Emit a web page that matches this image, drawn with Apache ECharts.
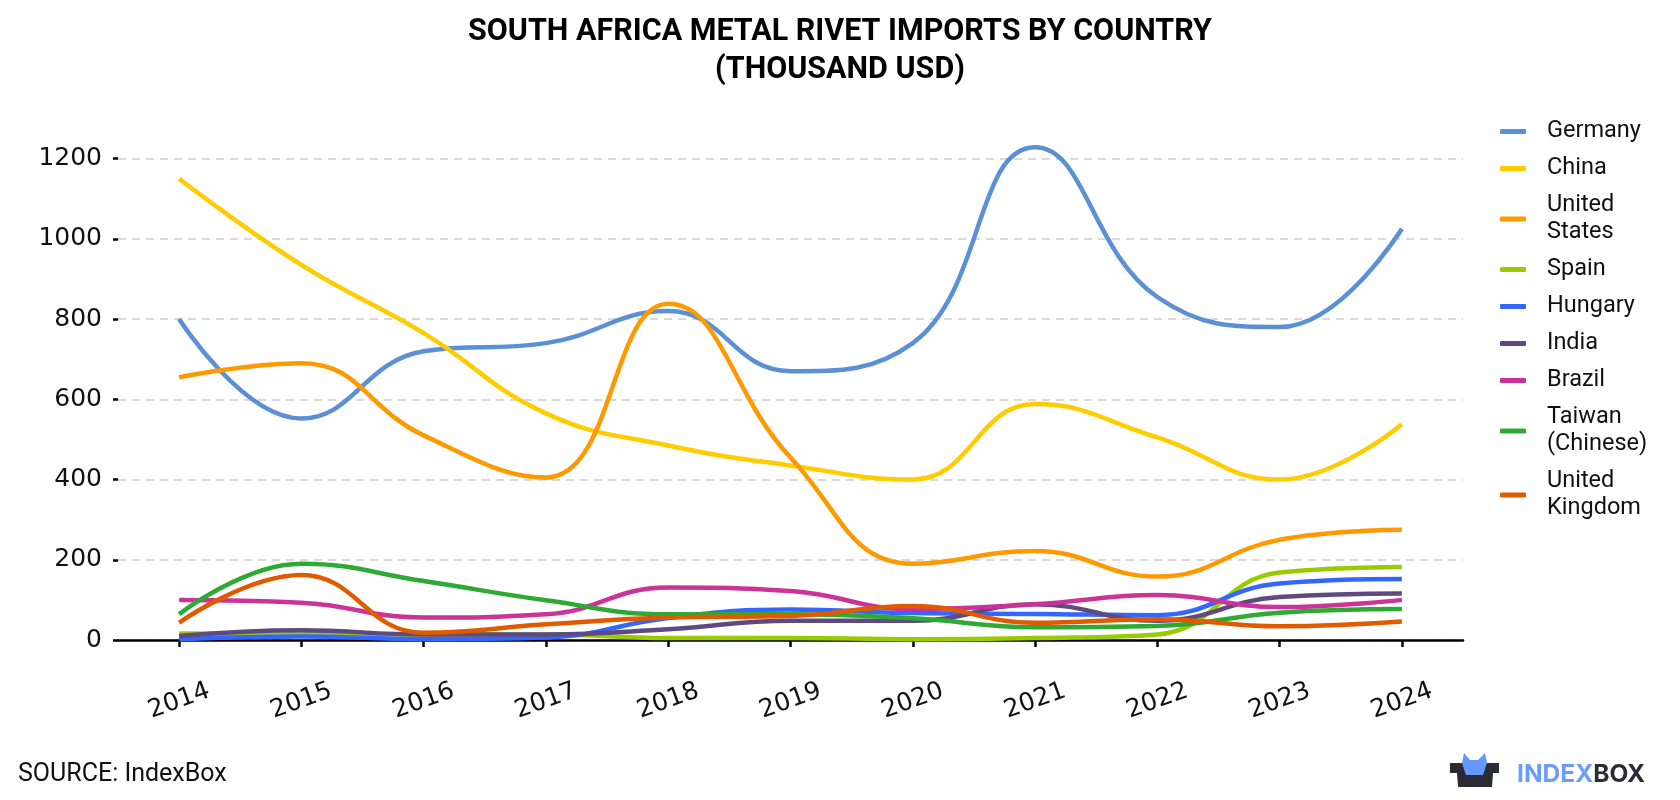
<!DOCTYPE html>
<html>
<head>
<meta charset="utf-8">
<script src="https://cdn.jsdelivr.net/npm/echarts@6/dist/echarts.min.js"></script>
<style>html,body{margin:0;padding:0;background:#fff}#c{width:1680px;height:800px}</style>
</head>
<body>
<div id="c"></div>
<script>
const years = ['2014','2015','2016','2017','2018','2019','2020','2021','2022','2023','2024'];
const germany = [800, 552, 720, 740, 820, 670, 740, 1228, 855, 780, 1025];
const china = [1150, 935, 765, 565, 485, 435, 400, 588, 505, 400, 538];
const unitedStates = [655, 690, 510, 405, 838, 455, 190, 222, 158, 250, 275];
const spain = [16, 15, 14, 14, 5, 5, 2, 5, 14, 168, 182];
const hungary = [2, 9, 2, 6, 55, 76, 67, 65, 62, 141, 152];
const india = [10, 24, 14, 14, 27, 48, 48, 89, 48, 107, 116];
const brazil = [100, 93, 56, 64, 131, 122, 77, 89, 112, 82, 100];
const taiwan = [64, 190, 147, 99, 64, 64, 54, 32, 35, 68, 77];
const uk = [43, 162, 18, 39, 56, 60, 85, 43, 52, 34, 46];
const yTicks = [0, 200, 400, 600, 800, 1000, 1200];

const seriesDefs = [
  ['Germany', germany, '#5b8fd6'],
  ['China', china, '#ffcc00'],
  ['United States', unitedStates, '#ff9900'],
  ['Spain', spain, '#99cc00'],
  ['Hungary', hungary, '#3366ff'],
  ['India', india, '#5e4a80'],
  ['Brazil', brazil, '#cc3399'],
  ['Taiwan (Chinese)', taiwan, '#2eaa33'],
  ['United Kingdom', uk, '#e05a00']
];
const wrapNames = {'United States':'United\nStates','Taiwan (Chinese)':'Taiwan\n(Chinese)','United Kingdom':'United\nKingdom'};

const chart = echarts.init(document.getElementById('c'), null, {renderer:'canvas'});
chart.setOption({
  backgroundColor:'#fff',
  animation:false,
  title:{
    text:'SOUTH AFRICA METAL RIVET IMPORTS BY COUNTRY\n(THOUSAND USD)',
    left:'center', top:8,
    textStyle:{fontFamily:'Roboto', fontWeight:'bold', fontSize:30.5, lineHeight:38, color:'#000'}
  },
  legend:{
    orient:'vertical', left:1495, top:113,
    icon:'roundRect', itemWidth:26, itemHeight:5, itemGap:10,
    data: seriesDefs.map(s=>s[0]),
    formatter: n => wrapNames[n] || n,
    textStyle:{fontFamily:'Roboto', fontSize:23.5, lineHeight:27, color:'#111', padding:[0,0,0,16]}
  },
  grid:{left:118, right:217, top:158.6, bottom:160, containLabel:false},
  xAxis:{
    type:'category', data:years, boundaryGap:true, offset:24,
    axisLine:{show:true, lineStyle:{color:'#000', width:2.5}},
    axisTick:{show:true, alignWithLabel:true, length:7, lineStyle:{color:'#000', width:2.5}},
    axisLabel:{rotate:20, fontFamily:'DejaVu Sans', fontSize:25, color:'#111', margin:37, align:'center', verticalAlign:'middle', interval:0},
    splitLine:{show:false}
  },
  yAxis:{
    type:'value', min:0, max:1200, interval:200,
    axisLine:{show:false},
    axisTick:{show:true, length:5, lineStyle:{color:'#000', width:2.5}},
    axisLabel:{fontFamily:'DejaVu Sans', fontSize:25, color:'#111', margin:16,
      formatter: v => yTicks.includes(v) ? String(v) : ''},
    splitLine:{show:true, lineStyle:{color:'#d9d9d9', type:[8,6], width:2}}
  },
  series: seriesDefs.map(([name, data, color]) => ({
    name, type:'line', data, smooth:0.45, clip:false,
    showSymbol:false, symbol:'none',
    lineStyle:{width:4.5, color}, itemStyle:{color}
  })),
  graphic:[
    {type:'text', left:18, top:762, style:{text:'SOURCE: IndexBox', fontFamily:'Roboto', fontSize:25, fill:'#111'}},
    {type:'group', left:1450, top:753, children:[
      {type:'polygon', shape:{points:[[0,10],[49,10],[49,20],[43,20],[42,34],[8,34],[7,20],[0,20]]}, style:{fill:'#2b2b36'}},
      {type:'polygon', shape:{points:[[12,10],[14,0],[20,7],[28,7],[35,0],[37,10],[33,22],[16,22]]}, style:{fill:'#6699ff'}}
    ]},
    {type:'text', left:1517, top:762, style:{text:'{a|INDEX}{b|BOX}', rich:{
      a:{fontFamily:'Inter', fontWeight:'bold', fontSize:24.5, fill:'#6b9bff', color:'#6b9bff'},
      b:{fontFamily:'Inter', fontWeight:'bold', fontSize:24.5, fill:'#2b2b36', color:'#2b2b36'}}}}
  ]
});
</script>
</body>
</html>
